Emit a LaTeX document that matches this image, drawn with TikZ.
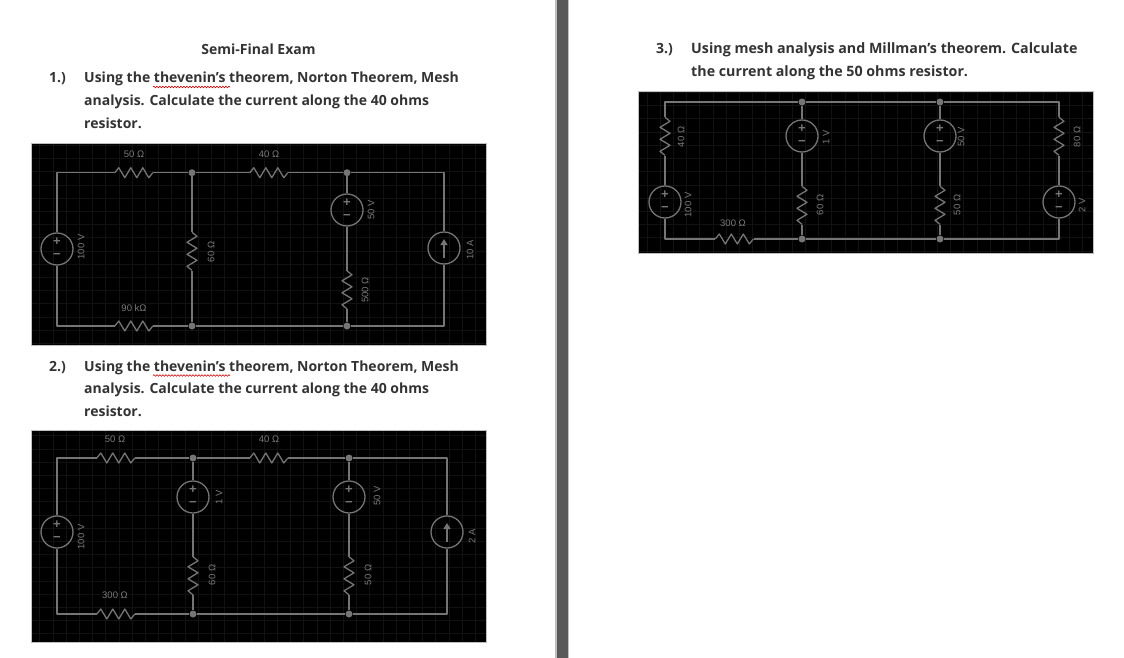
\documentclass[tikz,border=0pt]{standalone}
\usepackage{fontspec}
\setmainfont{Open Sans}
\newfontfamily\labfont{Liberation Sans}
\usetikzlibrary{arrows.meta,decorations.pathmorphing}
\definecolor{wirec}{HTML}{757575}
\definecolor{labc}{HTML}{7A7A7A}
\definecolor{inkc}{HTML}{333333}
\definecolor{gridc}{HTML}{121212}
\tikzset{
  x=1pt,y=-1pt,
  wire/.style={draw=wirec,line width=1.3pt,line join=round},
  board/.style={fill=black,inner sep=0,anchor=north west},
  frameline/.style={draw=lightgray,line width=.8pt},
  gridline/.style={draw=gridc,line width=.6pt},
  src/.style={circle,draw=wirec,line width=1.3pt,minimum size=32pt,inner sep=0},
  junc/.style={circle,fill=wirec,minimum size=7pt,inner sep=0},
  reswide/.style={minimum width=38pt,minimum height=12pt,inner sep=0},
  restall/.style={minimum width=12pt,minimum height=38pt,inner sep=0},
  lab/.style={font=\labfont\fontsize{9.5}{10}\selectfont,text=labc,inner sep=0},
  sign/.style={font=\labfont\bfseries\fontsize{13}{13}\selectfont,text=wirec,inner sep=0},
  body/.style={font=\bfseries\fontsize{14}{15}\selectfont,text=inkc,anchor=west,inner sep=0},
  bodywide/.style={body,font=\bfseries\fontsize{14.25}{15}\selectfont},
  squiggle/.style={draw=red!80!black,line width=.6pt,decorate,decoration={snake,segment length=3pt,amplitude=.8pt}},
}
\newcommand{\ResH}[3]{\node[reswide] (#1) at (#2,#3) {};
  \draw[wire] (#1.west) -- ++(4,-5) -- ++(6,10) -- ++(6,-10) -- ++(6,10) -- ++(6,-10) -- ++(6,10) -- ++(4,-5);}
\newcommand{\ResV}[3]{\node[restall] (#1) at (#2,#3) {};
  \draw[wire] (#1.north) -- ++(5,4) -- ++(-10,6) -- ++(10,6) -- ++(-10,6) -- ++(10,6) -- ++(-10,6) -- ++(5,4);}
\newcommand{\VS}[3]{\node[src] (#1) at (#2,#3) {};
  \node[sign] (#1p) at ([yshift=7.5pt]#1.center) {+};
  \node[sign] (#1m) at ([yshift=-7pt]#1.center) {−};}
\newcommand{\IS}[3]{\node[src] (#1) at (#2,#3) {};
  \draw[wire,-{Triangle[length=6pt,width=7pt]}] ([yshift=-10pt]#1.center) -- ([yshift=9pt]#1.center);}
\begin{document}
\begin{tikzpicture}
\useasboundingbox (0,0) rectangle (1124,658);
\fill[white] (0,0) rectangle (1124,658);
% page divider
\fill[lightgray] (555,0) rectangle (569,658);
\fill[black!65] (556.5,0) rectangle (567.5,658);
% text
\node[body,anchor=center] (title) at (258.5,49) {Semi-Final Exam};
\node[body] (n1) at (49,78.5) {1.)};
\node[body] (t1a) at (84,78.5) {Using the thevenin's theorem, Norton Theorem, Mesh};
\node[body] (t1b) at (84,101.5) {analysis. Calculate the current along the 40 ohms};
\node[body] (t1c) at (84,123.5) {resistor.};
\draw[squiggle] (153,87) -- (230,87);
\node[body] (n2) at (49,367.5) {2.)};
\node[body] (t2a) at (84,367.5) {Using the thevenin's theorem, Norton Theorem, Mesh};
\node[body] (t2b) at (84,389.5) {analysis. Calculate the current along the 40 ohms};
\node[body] (t2c) at (84,411.5) {resistor.};
\draw[squiggle] (153,375.5) -- (230,375.5);
\node[body] (n3) at (656,49.5) {3.)};
\node[bodywide] (t3a) at (691,49.5) {Using mesh analysis and Millman's theorem. Calculate};
\node[bodywide] (t3b) at (691,72.5) {the current along the 50 ohms resistor.};
% boards
\node[board,minimum width=455pt,minimum height=202pt] (b1) at (31,143) {};
\draw[gridline,step=13.2pt] (31.5,143.5) grid (485.5,344.5);
\draw[frameline] (b1.north west) rectangle (b1.south east);
\node[board,minimum width=455pt,minimum height=212pt] (b2) at (31,430) {};
\draw[gridline,step=13.2pt] (31.5,430.5) grid (485.5,641.5);
\draw[frameline] (b2.north west) rectangle (b2.south east);
\node[board,minimum width=455pt,minimum height=162pt] (b3) at (638,91) {};
\draw[gridline,step=13.2pt] (638.5,91.5) grid (1092.5,252.5);
\draw[frameline] (b3.north west) rectangle (b3.south east);

% circuit 1
\ResH{ar1}{134}{172.7}
\ResH{ar2}{269}{172.7}
\ResH{ar3}{134}{326}
\ResV{ar4}{192}{251.5}
\ResV{ar5}{347}{290}
\VS{as1}{57}{249}
\VS{as2}{347}{210}
\IS{ai1}{444}{248}
\node[junc] (aj1) at (192,172.7) {};
\node[junc] (aj2) at (347,172.7) {};
\node[junc] (aj3) at (192,326) {};
\node[junc] (aj4) at (347,326) {};
\draw[wire] (as1.north) |- (ar1.west);
\draw[wire] (ar1.east) -- (aj1);
\draw[wire] (aj1) -- (ar2.west);
\draw[wire] (ar2.east) -- (aj2);
\draw[wire] (aj2) -| (ai1.north);
\draw[wire] (ai1.south) |- (aj4);
\draw[wire] (aj4) -- (aj3);
\draw[wire] (aj3) -- (ar3.east);
\draw[wire] (ar3.west) -| (as1.south);
\draw[wire] (aj1) -- (ar4.north);
\draw[wire] (ar4.south) -- (aj3);
\draw[wire] (aj2) -- (as2.north);
\draw[wire] (as2.south) -- (ar5.north);
\draw[wire] (ar5.south) -- (aj4);
\node[lab] (al1) at (134,154) {50 Ω};
\node[lab] (al2) at (269,154) {40 Ω};
\node[lab] (al3) at (134,308) {90 kΩ};
\node[lab,rotate=90] (al4) at (81,247) {100 V};
\node[lab,rotate=90] (al5) at (211,252) {60 Ω};
\node[lab,rotate=90] (al6) at (371,210) {50 V};
\node[lab,rotate=90] (al7) at (365,290) {500 Ω};
\node[lab,rotate=90] (al8) at (470,250) {10 A};

% circuit 2
\ResH{br1}{116}{458}
\ResH{br2}{269}{458}
\ResH{br3}{116}{614}
\ResV{br4}{193}{576}
\ResV{br5}{349}{576}
\VS{bs1}{57}{532}
\VS{bs2}{193}{497}
\VS{bs3}{349}{497}
\IS{bi1}{447}{532}
\node[junc] (bj1) at (193,458) {};
\node[junc] (bj2) at (349,458) {};
\node[junc] (bj3) at (193,614) {};
\node[junc] (bj4) at (349,614) {};
\draw[wire] (bs1.north) |- (br1.west);
\draw[wire] (br1.east) -- (bj1);
\draw[wire] (bj1) -- (br2.west);
\draw[wire] (br2.east) -- (bj2);
\draw[wire] (bj2) -| (bi1.north);
\draw[wire] (bi1.south) |- (bj4);
\draw[wire] (bj4) -- (bj3);
\draw[wire] (bj3) -- (br3.east);
\draw[wire] (br3.west) -| (bs1.south);
\draw[wire] (bj1) -- (bs2.north);
\draw[wire] (bs2.south) -- (br4.north);
\draw[wire] (br4.south) -- (bj3);
\draw[wire] (bj2) -- (bs3.north);
\draw[wire] (bs3.south) -- (br5.north);
\draw[wire] (br5.south) -- (bj4);
\node[lab] (bl1) at (115,439) {50 Ω};
\node[lab] (bl2) at (269,439) {40 Ω};
\node[lab] (bl3) at (115,595) {300 Ω};
\node[lab,rotate=90] (bl4) at (81,537) {100 V};
\node[lab,rotate=90] (bl5) at (219,497) {1 V};
\node[lab,rotate=90] (bl6) at (377,496) {50 V};
\node[lab,rotate=90] (bl7) at (212,575) {60 Ω};
\node[lab,rotate=90] (bl8) at (368,575) {50 Ω};
\node[lab,rotate=90] (bl9) at (472,536) {2 A};

% circuit 3
\ResV{cr1}{665}{136.5}
\ResV{cr2}{1059}{136.5}
\ResH{cr3}{734.5}{239}
\ResV{cr4}{802}{205.5}
\ResV{cr5}{940}{205.5}
\VS{cs1}{665}{202}
\VS{cs2}{802}{136}
\VS{cs3}{940}{136}
\VS{cs4}{1059}{202}
\node[junc] (cj1) at (802,102) {};
\node[junc] (cj2) at (940,102) {};
\node[junc] (cj3) at (802,239) {};
\node[junc] (cj4) at (940,239) {};
\draw[wire] (cr1.north) |- (cj1);
\draw[wire] (cj1) -- (cj2);
\draw[wire] (cj2) -| (cr2.north);
\draw[wire] (cr1.south) -- (cs1.north);
\draw[wire] (cs1.south) |- (cr3.west);
\draw[wire] (cr3.east) -- (cj3);
\draw[wire] (cj3) -- (cj4);
\draw[wire] (cj4) -| (cs4.south);
\draw[wire] (cs4.north) -- (cr2.south);
\draw[wire] (cj1) -- (cs2.north);
\draw[wire] (cs2.south) -- (cr4.north);
\draw[wire] (cr4.south) -- (cj3);
\draw[wire] (cj2) -- (cs3.north);
\draw[wire] (cs3.south) -- (cr5.north);
\draw[wire] (cr5.south) -- (cj4);
\node[lab,rotate=90] (cl1) at (681,137) {40 Ω};
\node[lab,rotate=90] (cl2) at (688,205) {100 V};
\node[lab,rotate=90] (cl3) at (826,137) {1 V};
\node[lab,rotate=90] (cl4) at (961,137) {50 V};
\node[lab,rotate=90] (cl5) at (820,205) {60 Ω};
\node[lab,rotate=90] (cl6) at (957,205) {50 Ω};
\node[lab,rotate=90] (cl7) at (1077,137) {80 Ω};
\node[lab,rotate=90] (cl8) at (1082,205) {2 V};
\node[lab] (cl9) at (733,223) {300 Ω};
\end{tikzpicture}
\end{document}
